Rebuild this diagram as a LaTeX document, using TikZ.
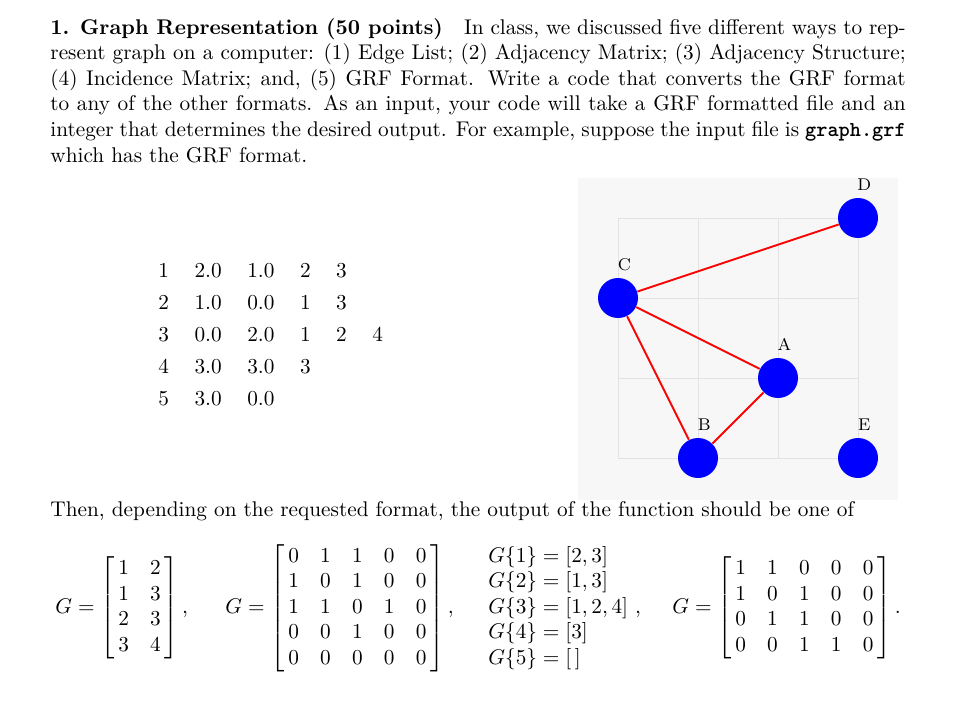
\documentclass[tikz,border=0pt]{standalone}
\usepackage{amsmath}
\tikzset{
  vtx/.style={circle,fill=blue,minimum size=18.8pt,inner sep=0pt},
  vlab/.style={font=\footnotesize,inner sep=1pt},
  edge/.style={red,line width=0.9pt},
  gridl/.style={gray!22,line width=0.4pt},
  txt/.style={inner sep=0pt,anchor=north west}
}
\begin{document}
\begin{tikzpicture}[x=0.47pt,y=-0.47pt]
\useasboundingbox (0,0) rectangle (976,703);
\node[txt,text width=402pt,align=justify] (para) at (50,18) {\textbf{1. Graph Representation (50 points)}\quad In class, we discussed five different ways to represent graph on a computer: (1) Edge List; (2) Adjacency Matrix; (3) Adjacency Structure; (4) Incidence Matrix; and, (5) GRF Format. Write a code that converts the GRF format to any of the other formats. As an input, your code will take a GRF formatted file and an integer that determines the desired output. For example, suppose the input file is \texttt{\textbf{graph.grf}} which has the GRF format.};
\node[anchor=west,inner sep=0pt] (tab) at (158,335) {\renewcommand{\arraystretch}{1.25}\begin{tabular}{@{}lllllll@{}}
1 & 2.0 & 1.0 & 2 & 3\\
2 & 1.0 & 0.0 & 1 & 3\\
3 & 0.0 & 2.0 & 1 & 2 & 4\\
4 & 3.0 & 3.0 & 3\\
5 & 3.0 & 0.0
\end{tabular}};
% graph
\fill[gray!6] (578,178) rectangle (898,500);
\foreach \x in {618,698,778,858} \draw[gridl] (\x,218) -- (\x,458);
\foreach \y in {218,298,378,458} \draw[gridl] (618,\y) -- (858,\y);
\node[vtx] (D) at (858,218) {};
\node[vtx] (C) at (618,298) {};
\node[vtx] (A) at (778,378) {};
\node[vtx] (B) at (698,458) {};
\node[vtx] (E) at (858,458) {};
\foreach \v in {A,B,C,D,E} \node[vlab] at ([xshift=3pt,yshift=6pt]\v.north) {\v};
\draw[edge] (C) -- (D);
\draw[edge] (C) -- (A);
\draw[edge] (C) -- (B);
\draw[edge] (A) -- (B);
\node[anchor=west,inner sep=0pt] (then) at (50,511) {Then, depending on the requested format, the output of the function should be one of};
\node[anchor=west,inner sep=0pt] (m1) at (55,608) {$G=\left[\,\begin{matrix}1&2\\1&3\\2&3\\3&4\end{matrix}\,\right],$};
\node[anchor=west,inner sep=0pt] (m2) at (225,608) {$G=\left[\,\begin{matrix}0&1&1&0&0\\1&0&1&0&0\\1&1&0&1&0\\0&0&1&0&0\\0&0&0&0&0\end{matrix}\,\right],$};
\node[anchor=west,inner sep=0pt] (m3) at (488,608) {$\begin{array}{@{}l@{}}G\{1\}=[2,3]\\G\{2\}=[1,3]\\G\{3\}=[1,2,4]\ ,\\G\{4\}=[3]\\G\{5\}=[\,]\end{array}$};
\node[anchor=west,inner sep=0pt] (m4) at (672,608) {$G=\left[\,\begin{matrix}1&1&0&0&0\\1&0&1&0&0\\0&1&1&0&0\\0&0&1&1&0\end{matrix}\,\right].$};
\end{tikzpicture}
\end{document}
